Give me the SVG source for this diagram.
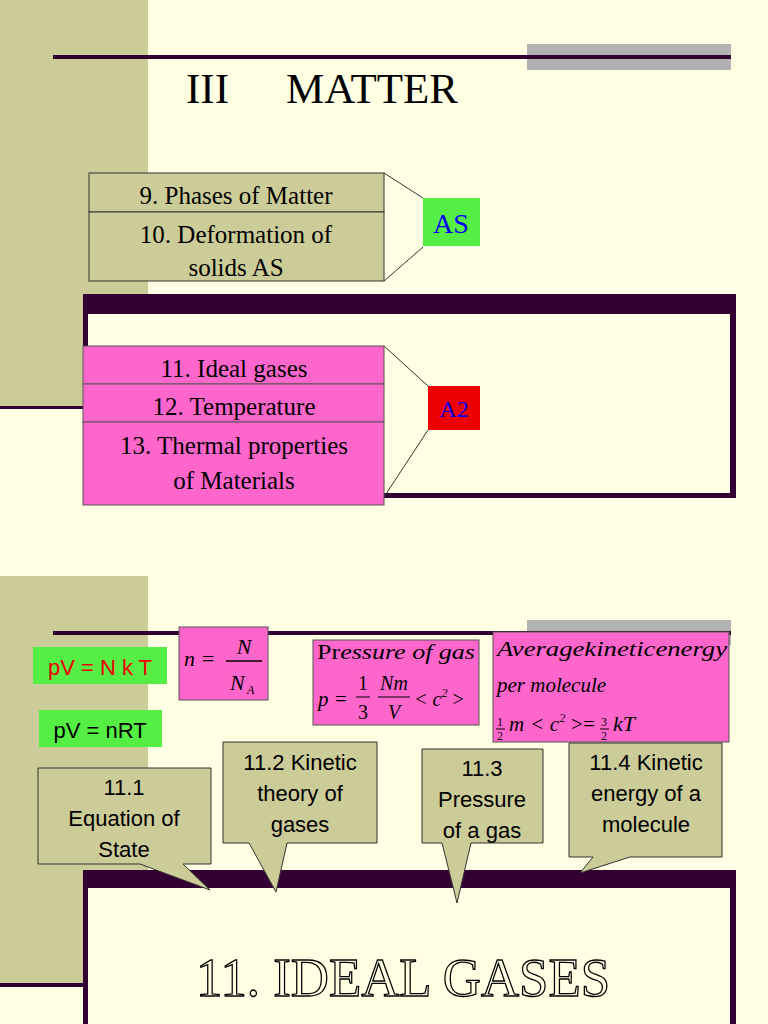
<svg xmlns="http://www.w3.org/2000/svg" width="768" height="1024" viewBox="0 0 768 1024">
<style>
.s{font-family:"Liberation Serif",serif;fill:#000}
.a{font-family:"Liberation Sans Narrow","Liberation Sans",Arial,sans-serif;fill:#000}
.k{fill:#CCCC99;stroke:#333;stroke-width:1}
.p{fill:#FF66CC;stroke:#555;stroke-width:1}
.g{fill:#55EE44}
.ln{stroke:#333;stroke-width:1;fill:none}
.dk{fill:#330033}
</style>
<rect width="768" height="1024" fill="#FFFFE3"/>
<rect x="0" y="0" width="148" height="408" fill="#CCCC99"/>
<rect x="0" y="406" width="85" height="3" class="dk"/>
<rect x="527" y="44" width="204" height="26" fill="#B2B2B2"/>
<rect x="53" y="55" width="678" height="4" class="dk"/>
<text x="186" y="103" class="s" font-size="43">III</text>
<text x="286" y="103" class="s" font-size="43">MATTER</text>
<rect x="83" y="294" width="653" height="204" class="dk"/>
<rect x="88" y="314" width="642" height="179" fill="#FFFFE3"/>
<g id="n9"><rect x="89" y="173" width="295" height="39" class="k"/><text x="236" y="204" class="s" font-size="25" text-anchor="middle">9. Phases of Matter</text></g>
<g id="n10"><rect x="89" y="212" width="295" height="69" class="k"/><text x="236" y="243" class="s" font-size="25" text-anchor="middle">10.  Deformation of</text><text x="236" y="276" class="s" font-size="25" text-anchor="middle">solids  AS</text></g>
<g id="as"><rect x="423" y="198" width="57" height="48" class="g"/><text x="451" y="233" class="s" font-size="28" text-anchor="middle" style="fill:#0000EE">AS</text></g>
<g id="n11"><rect x="83" y="346" width="301" height="38" class="p"/><text x="234" y="377" class="s" font-size="25" text-anchor="middle">11.  Ideal gases</text></g>
<g id="n12"><rect x="83" y="384" width="301" height="38" class="p"/><text x="234" y="415" class="s" font-size="25" text-anchor="middle">12.  Temperature</text></g>
<g id="n13"><rect x="83" y="422" width="301" height="83" class="p"/><text x="234" y="454" class="s" font-size="25" text-anchor="middle">13.  Thermal properties</text><text x="234" y="489" class="s" font-size="25" text-anchor="middle">of Materials</text></g>
<g id="a2"><rect x="428" y="386" width="52" height="44" fill="#EE0000"/><text x="454" y="417" class="s" font-size="24" text-anchor="middle" style="fill:#0000EE">A2</text></g>
<g id="connectors">
<path class="ln" d="M384 173 L423 198 M384 281 L423 247 M384 346 L428 386 M384 497 L428 430"/>
</g>
<rect x="0" y="576" width="148" height="409" fill="#CCCC99"/>
<rect x="0" y="983" width="85" height="4" class="dk"/>
<rect x="527" y="620" width="204" height="25" fill="#B2B2B2"/>
<rect x="53" y="631" width="678" height="4" class="dk"/>
<rect x="83" y="870" width="653" height="160" class="dk"/>
<rect x="88" y="888" width="642" height="140" fill="#FFFFE3"/>
<text x="196" y="996" font-family="Liberation Serif,serif" font-size="54" textLength="414" lengthAdjust="spacingAndGlyphs" fill="#FFFFE3" stroke="#000" stroke-width="1.3">11. IDEAL GASES</text>
<g id="f1"><rect x="33" y="647" width="134" height="37" class="g"/><text x="100" y="675" class="a" font-size="22" text-anchor="middle" style="fill:#EE0000">pV = N k T</text></g>
<g id="f2"><rect x="179" y="627" width="89" height="73" class="p"/><text x="184" y="666" class="s" font-size="22" font-style="italic">n =</text><line x1="226" y1="661" x2="262" y2="661" stroke="#000" stroke-width="1.5"/><text x="244" y="654" class="s" font-size="22" font-style="italic" text-anchor="middle">N</text><text x="230" y="690" class="s" font-size="22" font-style="italic">N</text><text x="247" y="694" class="s" font-size="12" font-style="italic">A</text></g>
<g id="f3"><rect x="39" y="710" width="123" height="37" class="g"/><text x="100" y="738" class="a" font-size="22" text-anchor="middle">pV = nRT</text></g>
<g id="f4"><rect x="313" y="640" width="166" height="85" class="p"/><text x="317" y="659" class="s" font-size="20" textLength="158" lengthAdjust="spacingAndGlyphs">Pr<tspan font-style="italic">essure of  gas</tspan></text><text x="318" y="706" class="s" font-size="21" font-style="italic">p =</text><text x="363" y="690" class="s" font-size="20" text-anchor="middle">1</text><line x1="356" y1="697" x2="370" y2="697" stroke="#000"/><text x="363" y="719" class="s" font-size="20" text-anchor="middle">3</text><text x="394" y="690" class="s" font-size="20" font-style="italic" text-anchor="middle">Nm</text><line x1="378" y1="697" x2="410" y2="697" stroke="#000"/><text x="394" y="719" class="s" font-size="20" font-style="italic" text-anchor="middle">V</text><text x="414" y="706" class="s" font-size="20" font-style="italic">&lt; c<tspan font-size="12" dy="-9">2</tspan><tspan dy="9" font-style="normal"> &gt;</tspan></text></g>
<g id="f5"><rect x="493" y="632" width="236" height="110" class="p"/><text x="497" y="656" class="s" font-size="21" font-style="italic" textLength="230" lengthAdjust="spacingAndGlyphs">Averagekineticenergy</text><text x="497" y="692" class="s" font-size="21" font-style="italic">per molecule</text><text x="497" y="726" class="s" font-size="12">1</text><line x1="496" y1="729" x2="505" y2="729" stroke="#000"/><text x="497" y="740" class="s" font-size="12">2</text><text x="509" y="731" class="s" font-size="21" font-style="italic" textLength="86" lengthAdjust="spacing">m &lt; c<tspan font-size="12" dy="-9">2</tspan><tspan dy="9" font-style="normal"> &gt;=</tspan></text><text x="601" y="726" class="s" font-size="12">3</text><line x1="600" y1="729" x2="609" y2="729" stroke="#000"/><text x="601" y="740" class="s" font-size="12">2</text><text x="613" y="731" class="s" font-size="22" font-style="italic">kT</text></g>
<g id="c1"><path class="k" d="M38 768 H211 V864 H183 L210 890 L140 864 H38 Z"/><text x="124" y="795" class="a" font-size="22" text-anchor="middle">11.1</text><text x="124" y="826" class="a" font-size="22" text-anchor="middle">Equation of</text><text x="124" y="857" class="a" font-size="22" text-anchor="middle">State</text></g>
<g id="c2"><path class="k" d="M223 742 H377 V843 H287 L276 892 L249 843 H223 Z"/><text x="300" y="770" class="a" font-size="22" text-anchor="middle">11.2 Kinetic</text><text x="300" y="801" class="a" font-size="22" text-anchor="middle">theory of</text><text x="300" y="832" class="a" font-size="22" text-anchor="middle">gases</text></g>
<g id="c3"><path class="k" d="M422 749 H543 V843 H471 L457 903 L442 843 H422 Z"/><text x="482" y="776" class="a" font-size="22" text-anchor="middle">11.3</text><text x="482" y="807" class="a" font-size="22" text-anchor="middle">Pressure</text><text x="482" y="838" class="a" font-size="22" text-anchor="middle">of a gas</text></g>
<g id="c4"><path class="k" d="M569 743 H722 V857 H630 L580 873 L593 857 H569 Z"/><text x="646" y="770" class="a" font-size="22" text-anchor="middle">11.4 Kinetic</text><text x="646" y="801" class="a" font-size="22" text-anchor="middle">energy of a</text><text x="646" y="832" class="a" font-size="22" text-anchor="middle">molecule</text></g>
</svg>
